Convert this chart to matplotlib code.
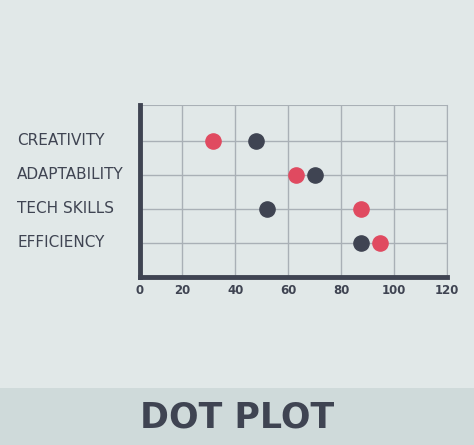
import matplotlib.pyplot as plt
from matplotlib.patches import Rectangle

categories = ["CREATIVITY", "ADAPTABILITY", "TECH SKILLS", "EFFICIENCY"]
red_values = [31.5, 63, 87.5, 94.5]
dark_values = [48, 70, 52, 87.5]
tick_values = [4, 20, 40, 60, 80, 100, 120]
tick_labels = ["0", "20", "40", "60", "80", "100", "120"]

BG = "#e1e8e8"
DARK = "#3f4452"
RED = "#e04a60"
GRID = "#a9b0b6"

fig = plt.figure(figsize=(4.74, 4.45), dpi=100, facecolor=BG)
fig.patches.append(Rectangle((0, 0), 1, 57 / 445, transform=fig.transFigure,
                             facecolor="#cfdada", zorder=0))
fig.text(0.5, 28 / 445, "DOT PLOT", ha="center", va="center", fontsize=25,
         fontweight="bold", color=DARK, family="DejaVu Sans")

ax = fig.add_axes([140 / 474, 1 - 277 / 445, 307 / 474, 172 / 445])
ax.set_facecolor(BG)
ypos = [4, 3, 2, 1]
ax.scatter(dark_values, ypos, s=120, color=DARK, zorder=3)
ax.scatter(red_values, ypos, s=120, color=RED, zorder=3)

ax.set_xlim(4, 119.5)
ax.set_ylim(0, 5.05)
ax.set_xticks(tick_values)
ax.set_xticklabels(tick_labels, fontsize=8.5, color=DARK, fontweight="bold")
ax.set_yticks(ypos)
ax.set_yticklabels([])
for y, name in zip(ypos, categories):
    ax.text(-123 / 307, y, name, transform=ax.get_yaxis_transform(),
            ha="left", va="center", fontsize=11, color=DARK)
ax.grid(True, color=GRID, linewidth=1, zorder=0)
ax.axhline(5.05, color=GRID, linewidth=1.5)
ax.tick_params(axis="both", length=0)
ax.tick_params(axis="x", pad=5)
ax.spines["top"].set_visible(False)
ax.spines["right"].set_color(GRID)
ax.spines["left"].set_color(DARK)
ax.spines["left"].set_linewidth(3.5)
ax.spines["bottom"].set_color(DARK)
ax.spines["bottom"].set_linewidth(3.5)

fig.savefig("out.png", dpi=100, facecolor=BG)
